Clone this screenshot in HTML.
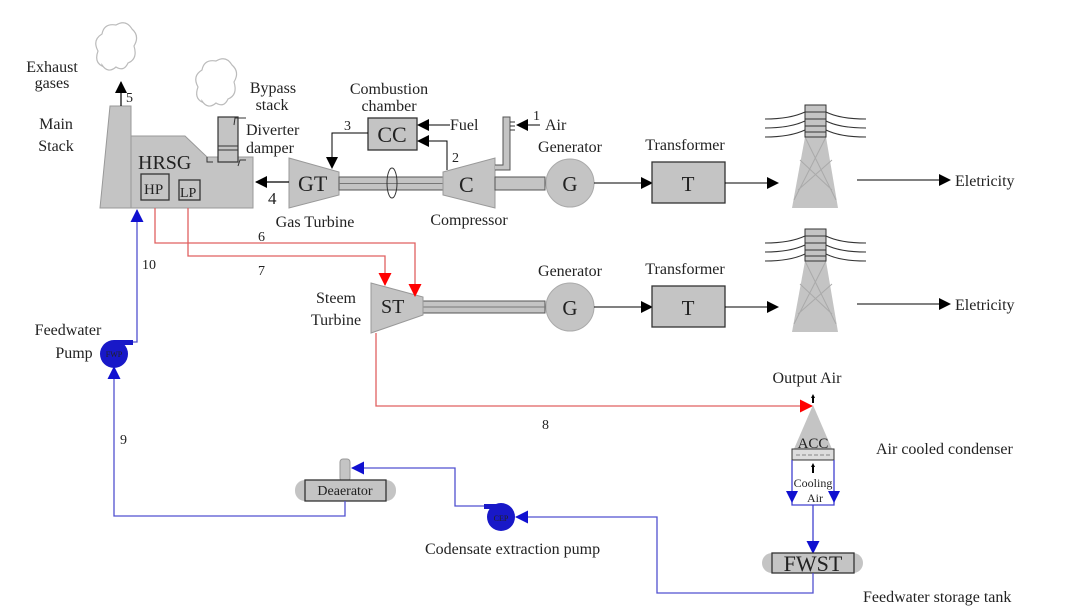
<!DOCTYPE html>
<html><head><meta charset="utf-8"><style>
html,body{margin:0;padding:0;background:#fff;}
svg{display:block;}
text{font-family:"Liberation Serif",serif;fill:#222;}
</style></head><body>
<svg width="1084" height="614" viewBox="0 0 1084 614" xmlns="http://www.w3.org/2000/svg">
<defs>
<marker id="ak" markerWidth="12" markerHeight="12" refX="11" refY="6" orient="auto" markerUnits="userSpaceOnUse"><path d="M0,0 L12,6 L0,12 z" fill="#000"/></marker>
<marker id="ar" markerWidth="13" markerHeight="13" refX="12" refY="6.5" orient="auto" markerUnits="userSpaceOnUse"><path d="M0,0 L13,6.5 L0,13 z" fill="#f00"/></marker>
<marker id="ab" markerWidth="13" markerHeight="13" refX="12" refY="6.5" orient="auto" markerUnits="userSpaceOnUse"><path d="M0,0 L13,6.5 L0,13 z" fill="#1010d0"/></marker>
</defs>

<g fill="#fff" stroke="#bbb" stroke-width="1.2">
<path d="M102,66 q-8,-4 -4,-15 q-6,-11 4,-17 q2,-11 14,-9 q10,-6 16,4 q8,7 2,17 q4,13 -6,17 q-4,9 -12,4 q-8,7 -14,-2 z"/>
<path d="M202,102 q-8,-4 -4,-15 q-6,-11 4,-17 q2,-11 14,-9 q10,-6 16,4 q8,7 2,17 q4,13 -6,17 q-4,9 -12,4 q-8,7 -14,-2 z"/>
</g>

<path d="M100,208 L110,106 L131,106 L131,136 L185,136 L207,157 L253,157 L253,208 Z" fill="#c4c4c4" stroke="#999" stroke-width="1"/>
<line x1="131" y1="136" x2="131" y2="208" stroke="#999"/>
<rect x="218" y="117" width="20" height="45" fill="#c4c4c4" stroke="#333" stroke-width="1.2"/>
<line x1="218" y1="146" x2="238" y2="146" stroke="#333"/>
<line x1="218" y1="150" x2="238" y2="150" stroke="#333"/>
<path d="M207,157 L207,162 L213,162" fill="none" stroke="#333"/>
<path d="M246,118 L235,118 L234,125" fill="none" stroke="#333"/>
<path d="M246,160 L240,160 L238,166" fill="none" stroke="#333"/>
<text x="138" y="169" font-size="20">HRSG</text>
<rect x="141" y="174" width="28" height="26" fill="none" stroke="#333" stroke-width="1.3"/>
<text x="144" y="194" font-size="15">HP</text>
<rect x="179" y="180" width="21" height="20" fill="none" stroke="#333" stroke-width="1.3"/>
<text x="180" y="197" font-size="14">LP</text>

<line x1="121" y1="106" x2="121" y2="82" stroke="#000" stroke-width="1.2" marker-end="url(#ak)"/>
<text x="126" y="102" font-size="14">5</text>
<text x="52" y="72" font-size="16" text-anchor="middle">Exhaust</text>
<text x="52" y="88" font-size="16" text-anchor="middle">gases</text>
<text x="56" y="129" font-size="16" text-anchor="middle">Main</text>
<text x="56" y="151" font-size="16" text-anchor="middle">Stack</text>
<text x="273" y="93" font-size="16" text-anchor="middle">Bypass</text>
<text x="272" y="110" font-size="16" text-anchor="middle">stack</text>
<text x="246" y="135" font-size="16">Diverter</text>
<text x="246" y="153" font-size="16">damper</text>

<path d="M289,158 L339,172 L339,195 L289,208 Z" fill="#c4c4c4" stroke="#999"/>
<text x="298" y="191" font-size="22">GT</text>
<line x1="289" y1="182" x2="256" y2="182" stroke="#000" stroke-width="1.2" marker-end="url(#ak)"/>
<text x="268" y="204" font-size="17">4</text>
<text x="315" y="227" font-size="16" text-anchor="middle">Gas Turbine</text>
<rect x="339" y="177" width="104" height="13" fill="#c4c4c4" stroke="#555"/>
<line x1="339" y1="183.5" x2="443" y2="183.5" stroke="#777"/>
<ellipse cx="392" cy="183" rx="5" ry="15" fill="none" stroke="#333"/>
<path d="M443,172 L495,158 L495,208 L443,195 Z" fill="#c4c4c4" stroke="#999"/>
<text x="459" y="192" font-size="22">C</text>
<text x="469" y="225" font-size="16" text-anchor="middle">Compressor</text>
<path d="M495,165 L503,165 L503,117 L510,117 L510,170 L495,170" fill="#c4c4c4" stroke="#555"/>
<line x1="510" y1="122" x2="515" y2="122" stroke="#333"/><line x1="510" y1="126" x2="515" y2="126" stroke="#333"/><line x1="510" y1="130" x2="515" y2="130" stroke="#333"/>
<line x1="540" y1="125" x2="517" y2="125" stroke="#000" marker-end="url(#ak)"/>
<text x="533" y="120" font-size="14">1</text>
<text x="545" y="130" font-size="16">Air</text>
<rect x="495" y="177" width="50" height="13" fill="#c4c4c4" stroke="#555"/>

<rect x="368" y="118" width="49" height="32" fill="#c4c4c4" stroke="#333" stroke-width="1.3"/>
<text x="392" y="142" font-size="22" text-anchor="middle">CC</text>
<text x="389" y="94" font-size="16" text-anchor="middle">Combustion</text>
<text x="389" y="111" font-size="16" text-anchor="middle">chamber</text>
<line x1="450" y1="125" x2="418" y2="125" stroke="#000" marker-end="url(#ak)"/>
<text x="450" y="130" font-size="16">Fuel</text>
<polyline points="447,170 447,141 418,141" fill="none" stroke="#000" marker-end="url(#ak)"/>
<text x="452" y="162" font-size="14">2</text>
<polyline points="368,133 332,133 332,168" fill="none" stroke="#000" marker-end="url(#ak)"/>
<text x="344" y="130" font-size="14">3</text>

<g id="row1">
<circle cx="570" cy="183" r="24" fill="#c4c4c4" stroke="#aaa"/>
<text x="570" y="191" font-size="21" text-anchor="middle">G</text>
<text x="570" y="152" font-size="16" text-anchor="middle">Generator</text>
<line x1="594" y1="183" x2="652" y2="183" stroke="#000" marker-end="url(#ak)"/>
<rect x="652" y="162" width="73" height="41" fill="#c4c4c4" stroke="#333" stroke-width="1.3"/>
<text x="688" y="191" font-size="21" text-anchor="middle">T</text>
<text x="685" y="150" font-size="16" text-anchor="middle">Transformer</text>
<line x1="725" y1="183" x2="778" y2="183" stroke="#000" marker-end="url(#ak)"/>
<path d="M805,137 L826,137 L838,208 L792,208 Z" fill="#c4c4c4"/>
<path d="M805,137 L836,200 M826,137 L794,200 M800,160 L832,190 M832,160 L798,190" stroke="#aaa" fill="none"/>
<rect x="805" y="105" width="21" height="32" fill="#c4c4c4" stroke="#333"/>
<path d="M805,112 h21 M805,119 h21 M805,126 h21 M805,132 h21" stroke="#333"/>
<path d="M765,119 Q790,119 805,112 M765,128 Q790,128 805,121 M765,137 Q790,137 805,130 M826,112 Q840,119 866,119 M826,121 Q840,128 866,128 M826,130 Q840,137 866,137" stroke="#333" fill="none"/>
<line x1="857" y1="180" x2="950" y2="180" stroke="#000" marker-end="url(#ak)"/>
<text x="955" y="186" font-size="16">Eletricity</text>
</g>
<use href="#row1" transform="translate(0,124)"/>

<rect x="423" y="301" width="122" height="12" fill="#c4c4c4" stroke="#555"/>
<line x1="423" y1="307" x2="545" y2="307" stroke="#777"/>
<path d="M371,283 L423,297 L423,315 L371,333 Z" fill="#c4c4c4" stroke="#999"/>
<text x="381" y="313" font-size="20">ST</text>
<text x="336" y="303" font-size="16" text-anchor="middle">Steem</text>
<text x="336" y="325" font-size="16" text-anchor="middle">Turbine</text>

<polyline points="155,208 155,243 415,243 415,296" fill="none" stroke="#e06060" stroke-width="1.3" marker-end="url(#ar)"/>
<polyline points="188,208 188,256 385,256 385,285" fill="none" stroke="#e06060" stroke-width="1.3" marker-end="url(#ar)"/>
<text x="258" y="241" font-size="14">6</text>
<text x="258" y="275" font-size="14">7</text>
<polyline points="376,333 376,406 812,406" fill="none" stroke="#e06060" stroke-width="1.3" marker-end="url(#ar)"/>
<text x="542" y="429" font-size="14">8</text>

<path d="M813,405 L832,449 L794,449 Z" fill="#c4c4c4"/>
<text x="813" y="448" font-size="15" text-anchor="middle">ACC</text>
<rect x="792" y="449" width="42" height="11" fill="#ddd" stroke="#333"/>
<path d="M796,455 h34" stroke="#888" stroke-dasharray="4,2"/>
<polyline points="792,460 792,505 834,505 834,460" fill="none" stroke="#4040d0" stroke-width="1.3"/>
<path d="M786,491 L798,491 L792,503 Z M828,491 L840,491 L834,503 Z" fill="#1010d0"/>
<text x="813" y="487" font-size="12" text-anchor="middle">Cooling</text>
<text x="815" y="502" font-size="12" text-anchor="middle">Air</text>
<line x1="813" y1="473" x2="813" y2="465" stroke="#000" stroke-width="2"/>
<path d="M811,467 L813,463 L815,467 Z" fill="#000"/>
<line x1="813" y1="403" x2="813" y2="396" stroke="#000" stroke-width="2"/>
<path d="M811,398 L813,394 L815,398 Z" fill="#000"/>
<text x="807" y="383" font-size="16" text-anchor="middle">Output Air</text>
<text x="876" y="454" font-size="16">Air cooled condenser</text>
<line x1="813" y1="505" x2="813" y2="553" stroke="#4040d0" stroke-width="1.3" marker-end="url(#ab)"/>

<rect x="762" y="553" width="101" height="20" rx="10" fill="#c4c4c4"/>
<rect x="772" y="553" width="82" height="20" fill="#c4c4c4" stroke="#333" stroke-width="1.3"/>
<text x="813" y="571" font-size="22" text-anchor="middle">FWST</text>
<text x="863" y="602" font-size="16">Feedwater storage tank</text>

<polyline points="813,573 813,593 657,593 657,517 516,517" fill="none" stroke="#5050d0" stroke-width="1.3" marker-end="url(#ab)"/>
<circle cx="501" cy="517" r="14" fill="#1818c8"/>
<rect x="484" y="504" width="17" height="5" fill="#1818c8"/>
<text x="501" y="521" font-size="8" text-anchor="middle" fill="#0a0a80">CEP</text>
<text x="425" y="554" font-size="16">Codensate extraction pump</text>
<polyline points="484,506 455,506 455,468 352,468" fill="none" stroke="#5050d0" stroke-width="1.3" marker-end="url(#ab)"/>
<rect x="340" y="459" width="10" height="22" rx="3" fill="#c4c4c4" stroke="#999"/>
<rect x="295" y="480" width="101" height="21" rx="10" fill="#c4c4c4"/>
<rect x="305" y="480" width="81" height="21" fill="#c4c4c4" stroke="#333" stroke-width="1.3"/>
<text x="345" y="495" font-size="14" text-anchor="middle">Deaerator</text>
<polyline points="345,501 345,516 114,516 114,367" fill="none" stroke="#5050d0" stroke-width="1.3" marker-end="url(#ab)"/>
<text x="120" y="444" font-size="14">9</text>
<circle cx="114" cy="354" r="14" fill="#1818c8"/>
<rect x="114" y="340" width="19" height="5" fill="#1818c8"/>
<text x="114" y="357" font-size="8" text-anchor="middle" fill="#0a0a80">FWP</text>
<polyline points="133,342 137,342 137,210" fill="none" stroke="#5050d0" stroke-width="1.3" marker-end="url(#ab)"/>
<text x="142" y="269" font-size="14">10</text>
<text x="68" y="335" font-size="16" text-anchor="middle">Feedwater</text>
<text x="74" y="358" font-size="16" text-anchor="middle">Pump</text>
</svg>
</body></html>
